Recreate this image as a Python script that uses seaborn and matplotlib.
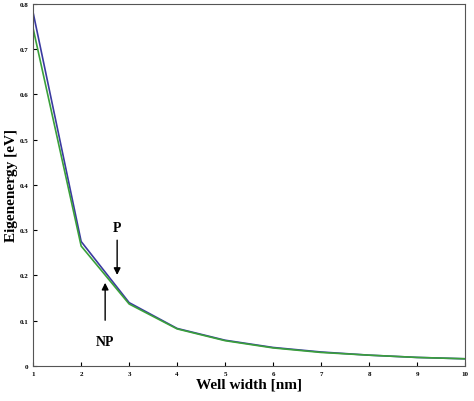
import matplotlib
matplotlib.use("Agg")
import matplotlib.pyplot as plt
import seaborn as sns
import pandas as pd

width = [1, 2, 3, 4, 5, 6, 7, 8, 9, 10]
energy_p = [0.78, 0.275, 0.140, 0.083, 0.057, 0.041, 0.031, 0.024, 0.019, 0.016]
energy_np = [0.745, 0.265, 0.137, 0.082, 0.056, 0.040, 0.030, 0.024, 0.019, 0.016]

sns.set_style("ticks")
plt.rcParams['font.family'] = ['Liberation Serif', 'DejaVu Serif']
plt.rcParams['text.color'] = 'black'
plt.rcParams['axes.labelcolor'] = 'black'
plt.rcParams['xtick.color'] = 'black'
plt.rcParams['ytick.color'] = 'black'

fig = plt.figure(figsize=(4.74, 4.02), dpi=100)
ax = fig.add_axes([0.07, 0.087, 0.911, 0.901])
df = pd.DataFrame({"w": width + width, "e": energy_p + energy_np,
                   "s": ["P"] * len(width) + ["NP"] * len(width)})
sns.lineplot(data=df, x="w", y="e", hue="s", palette={"P": "#3a3aa0", "NP": "#3aa03a"},
             legend=False, ax=ax, linewidth=1.2)
ax.set_xlim(1, 10)
ax.set_ylim(0, 0.8)
ax.set_xticks(width)
ax.set_yticks([0, 0.1, 0.2, 0.3, 0.4, 0.5, 0.6, 0.7, 0.8])
ax.set_yticklabels(["0", "0.1", "0.2", "0.3", "0.4", "0.5", "0.6", "0.7", "0.8"])
ax.tick_params(labelsize=5, direction="in", length=3)
for lab in ax.get_xticklabels() + ax.get_yticklabels():
    lab.set_fontweight("bold")
ax.set_xlabel("Well width [nm]", fontsize=11, fontweight="bold", labelpad=1)
ax.set_ylabel("Eigenenergy [eV]", fontsize=11, fontweight="bold", labelpad=1)
for s in ax.spines.values():
    s.set_color("#555555")
ax.annotate("P", xy=(2.75, 0.195), xytext=(2.75, 0.32), ha="center", va="top",
            fontsize=10, fontweight="bold",
            arrowprops=dict(arrowstyle="-|>", color="black", lw=1))
ax.annotate("NP", xy=(2.5, 0.19), xytext=(2.5, 0.055), ha="center", va="center",
            fontsize=10, fontweight="bold",
            arrowprops=dict(arrowstyle="-|>", color="black", lw=1, shrinkA=8))
fig.savefig("out.png", dpi=100)
